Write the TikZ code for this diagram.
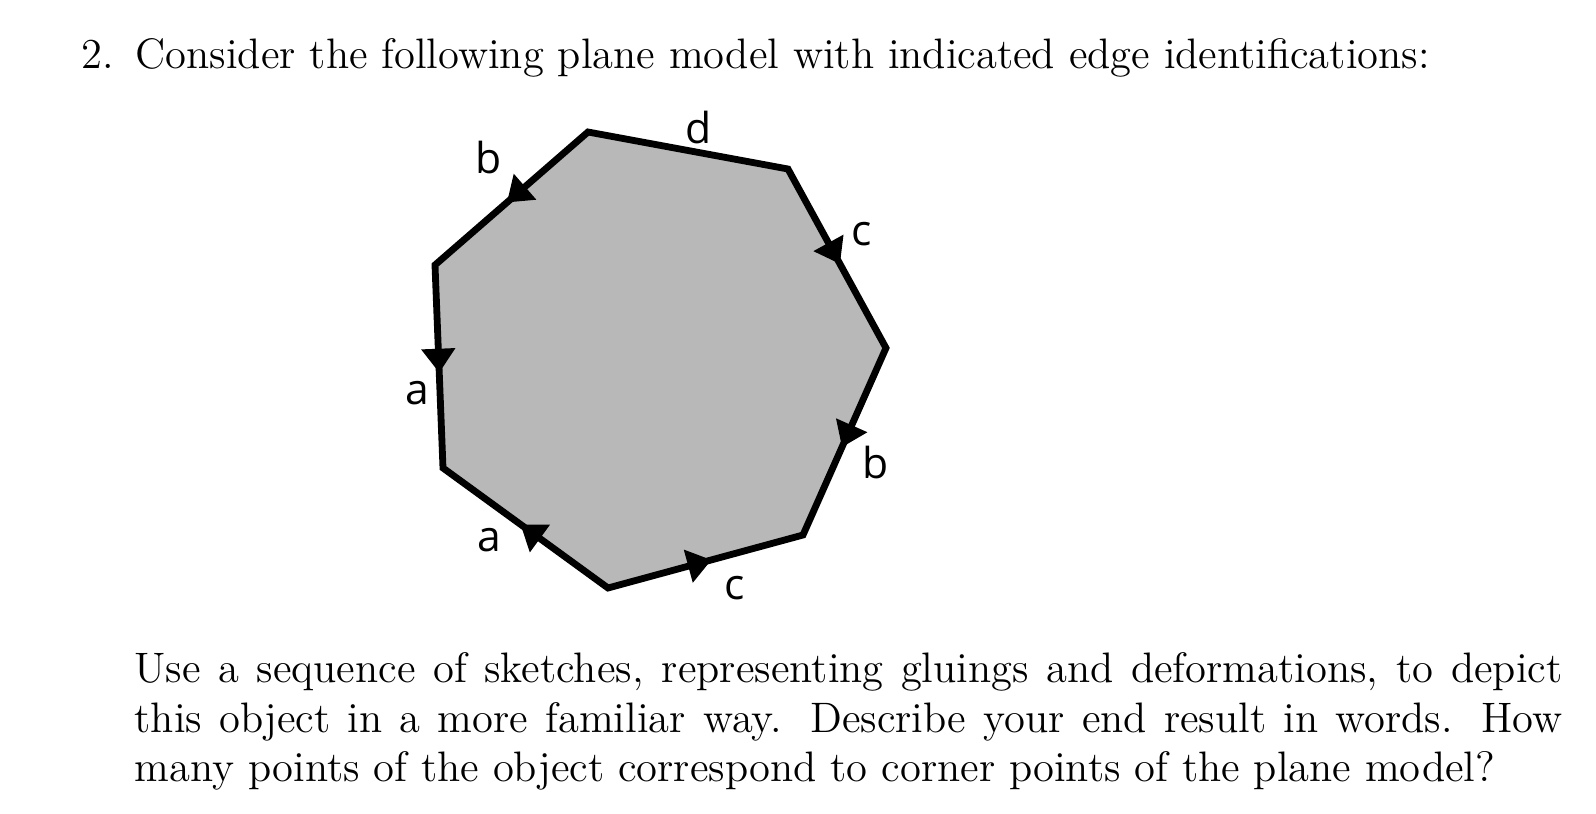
\documentclass[tikz,border=0pt]{standalone}
\usepackage{fontspec}
\newfontfamily\edgefont{Open Sans}
\usetikzlibrary{arrows.meta,decorations.markings}
\definecolor{ModelGray}{HTML}{B8B8B8}

\begin{document}
\begin{tikzpicture}[x=0.2933pt, y=-0.2933pt, font=\fontsize{12.5}{14.5}\selectfont,
  edgelabel/.style={font=\edgefont\fontsize{12.5}{15}\selectfont, inner sep=0pt},
  textline/.style={inner sep=0pt, anchor=base west},
  gluearr/.style={postaction={decorate}, decoration={markings, mark=at position 0.53 with {\arrow{Triangle[length=7pt,width=10pt]}}}}]
\useasboundingbox (0,0) rectangle (1596,814);
% corners of the plane model
\coordinate (vtop) at (588,132);
\coordinate (vtopright) at (788,169);
\coordinate (vright) at (886,348);
\coordinate (vlowright) at (803,535);
\coordinate (vbottom) at (608,588);
\coordinate (vlowleft) at (443,468);
\coordinate (vleft) at (435,265);
\filldraw[fill=ModelGray, line width=2pt, line join=miter] (vtop) -- (vtopright) -- (vright) -- (vlowright) -- (vbottom) -- (vlowleft) -- (vleft) -- cycle;
% edge identifications
\path[gluearr] (vtop) -- (vleft);
\path[gluearr] (vleft) -- (vlowleft);
\path[gluearr] (vbottom) -- (vlowleft);
\path[gluearr] (vbottom) -- (vlowright);
\path[gluearr] (vright) -- (vlowright);
\path[gluearr] (vtopright) -- (vright);
\node[edgelabel] (ld) at (699,128) {d};
\node[edgelabel] (lb1) at (489,158) {b};
\node[edgelabel] (lc1) at (862,234) {c};
\node[edgelabel] (la1) at (417,393) {a};
\node[edgelabel] (lb2) at (876,463) {b};
\node[edgelabel] (la2) at (489,540) {a};
\node[edgelabel] (lc2) at (735,588) {c};
% question text
\node[textline] (num) at (81,68) {2.};
\node[textline] (title) at (135,68) {Consider the following plane model with indicated edge identifications:};
\node[inner sep=0pt, anchor=north west, text width=418.8pt, align=justify] (task) at (134,652) {Use a sequence of sketches, representing gluings and deformations, to depict\linebreak{} this object in a more familiar way. Describe your end result in words. How\linebreak{} many points of the object correspond to corner points of the plane model?};
\end{tikzpicture}
\end{document}
